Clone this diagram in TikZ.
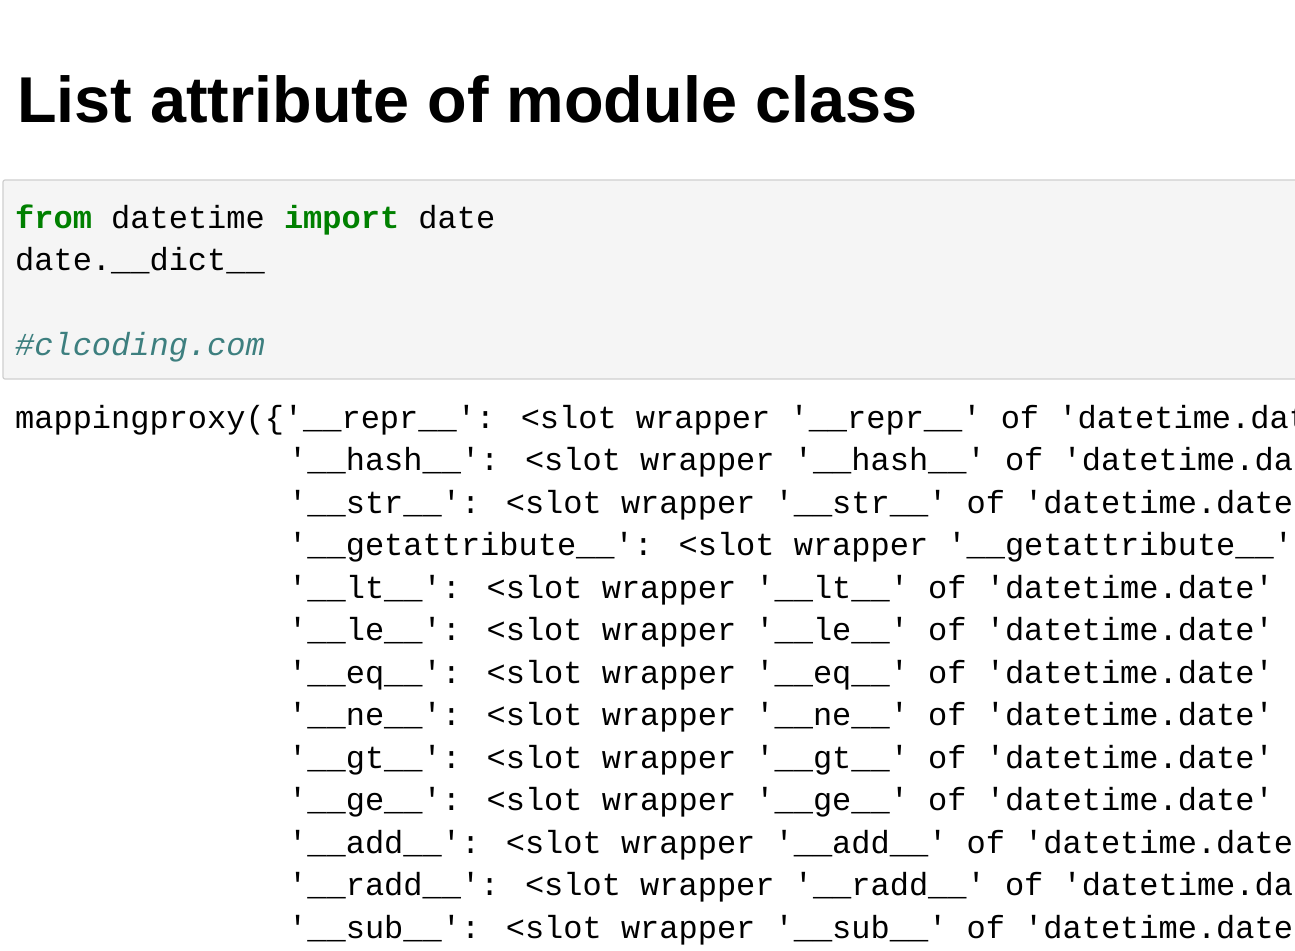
\documentclass[tikz,border=0pt]{standalone}
\usepackage{fontspec}
\newfontfamily\mono{Liberation Mono}
\newfontfamily\titlefont{Liberation Sans}
\definecolor{kw}{HTML}{008000}
\definecolor{cm}{HTML}{3D7F7F}
\definecolor{boxbg}{HTML}{F5F5F5}
\definecolor{boxline}{HTML}{CFCFCF}
\tikzset{code/.style={anchor=base west,inner sep=0pt,font=\mono\fontsize{32}{38}\selectfont}}
\begin{document}
\begin{tikzpicture}[x=1pt,y=1pt]
\useasboundingbox (0,0) rectangle (1295,-950);
\clip (0,0) rectangle (1295,-950);
\fill[white] (0,0) rectangle (1295,-950);
\node[anchor=base west,inner sep=0pt,font=\titlefont\bfseries\fontsize{64.8}{70}\selectfont] (title) at (17,-122) {List attribute of module class};
\draw[boxline,fill=boxbg,line width=1.2pt,rounded corners=2pt] (3,-180) rectangle (1310,-379);
\node[code] (c1) at (15,-228) {\textcolor{kw}{\bfseries from} datetime \textcolor{kw}{\bfseries import} date};
\node[code] (c2) at (15,-270) {date.\_\_dict\_\_};
\node[code] (c3) at (15,-355) {\textcolor{cm}{\itshape \#clcoding.com}};
\node[code] (o1) at (15,-428) {mappingproxy(\{'\_\_repr\_\_': <slot wrapper '\_\_repr\_\_' of 'datetime.date' objects>,};
\foreach \t [count=\i] in {
 {'\_\_hash\_\_': <slot wrapper '\_\_hash\_\_' of 'datetime.date' objects>,},
 {'\_\_str\_\_': <slot wrapper '\_\_str\_\_' of 'datetime.date' objects>,},
 {'\_\_getattribute\_\_': <slot wrapper '\_\_getattribute\_\_' of 'datetime.date' objects>,},
 {'\_\_lt\_\_': <slot wrapper '\_\_lt\_\_' of 'datetime.date' objects>,},
 {'\_\_le\_\_': <slot wrapper '\_\_le\_\_' of 'datetime.date' objects>,},
 {'\_\_eq\_\_': <slot wrapper '\_\_eq\_\_' of 'datetime.date' objects>,},
 {'\_\_ne\_\_': <slot wrapper '\_\_ne\_\_' of 'datetime.date' objects>,},
 {'\_\_gt\_\_': <slot wrapper '\_\_gt\_\_' of 'datetime.date' objects>,},
 {'\_\_ge\_\_': <slot wrapper '\_\_ge\_\_' of 'datetime.date' objects>,},
 {'\_\_add\_\_': <slot wrapper '\_\_add\_\_' of 'datetime.date' objects>,},
 {'\_\_radd\_\_': <slot wrapper '\_\_radd\_\_' of 'datetime.date' objects>,},
 {'\_\_sub\_\_': <slot wrapper '\_\_sub\_\_' of 'datetime.date' objects>,}}
 { \node[code] (o\i x) at (288,{-428-42.5*\i}) {\t}; }
\end{tikzpicture}
\end{document}
